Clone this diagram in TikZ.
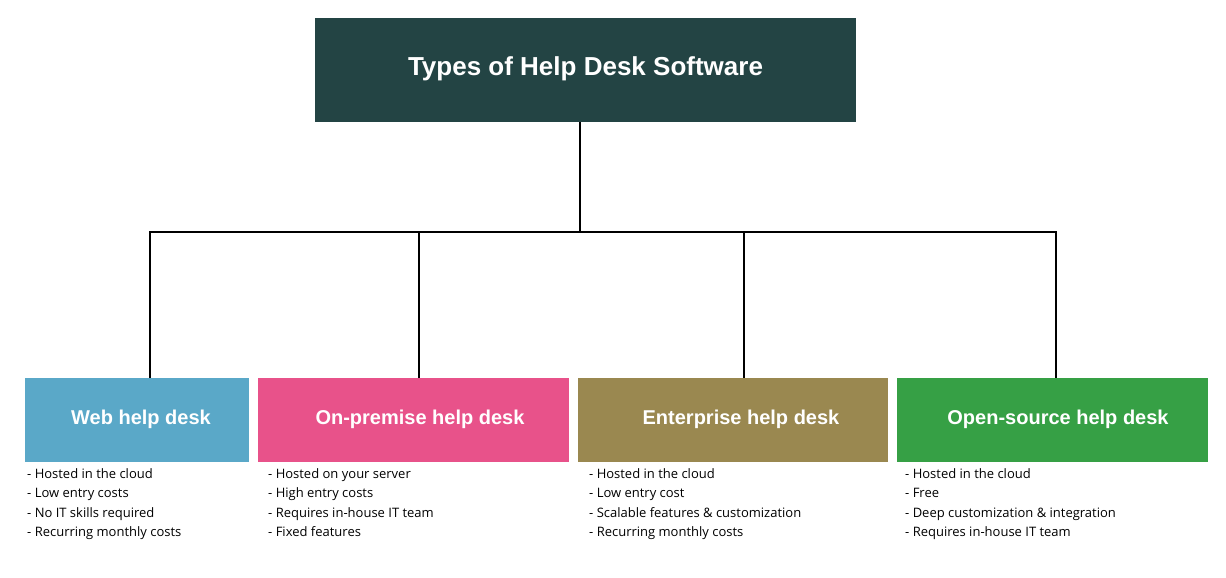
\documentclass[tikz,border=0pt]{standalone}
\usepackage{fontspec}
\setmainfont{Open Sans}
\newfontfamily\titlefont{Liberation Sans}
\definecolor{ttl}{HTML}{234444}
\definecolor{cweb}{HTML}{5AA8C8}
\definecolor{cprem}{HTML}{E8528A}
\definecolor{cent}{HTML}{9A8850}
\definecolor{copen}{HTML}{36A045}
\begin{document}
\begin{tikzpicture}[x=1pt,y=-1pt,
  cat/.style={font=\titlefont\bfseries\fontsize{20}{24}\selectfont, text=white, inner sep=0pt},
  lst/.style={anchor=north west, align=left, font=\fontsize{13}{19.5}\selectfont, inner sep=0pt},
  conn/.style={draw=black, line width=1.2pt}]
\useasboundingbox (0,0) rectangle (1226,578);
\fill[white] (0,0) rectangle (1226,578);
\fill[ttl] (315,18) rectangle (856,122);
\node[cat, font=\titlefont\bfseries\fontsize{26}{30}\selectfont] (title) at (585.5,69) {Types of Help Desk Software};
\fill[cweb] (25,378) rectangle (249,462);
\fill[cprem] (258,378) rectangle (569,462);
\fill[cent] (578,378) rectangle (888,462);
\fill[copen] (897,378) rectangle (1208,462);
\node[cat] (web) at (141,419) {Web help desk};
\node[cat] (prem) at (420,419) {On-premise help desk};
\node[cat] (ent) at (741,419) {Enterprise help desk};
\node[cat] (open) at (1058,419) {Open-source help desk};
\coordinate (t) at (580,122);
\coordinate (j) at (580,232);
\coordinate (a) at (150,232); \coordinate (a2) at (150,378);
\coordinate (b) at (419,232); \coordinate (b2) at (419,378);
\coordinate (c) at (744,232); \coordinate (c2) at (744,378);
\coordinate (d) at (1056,232); \coordinate (d2) at (1056,378);
\draw[conn] (t) -- (j);
\draw[conn] (a2) -- (a) -- (d) -- (d2);
\draw[conn] (b) -- (b2);
\draw[conn] (c) -- (c2);
\node[lst] (l1) at (27,468) {- Hosted in the cloud\\- Low entry costs\\- No IT skills required\\- Recurring monthly costs};
\node[lst] (l2) at (268,468) {- Hosted on your server\\- High entry costs\\- Requires in-house IT team\\- Fixed features};
\node[lst] (l3) at (589,468) {- Hosted in the cloud\\- Low entry cost\\- Scalable features \& customization\\- Recurring monthly costs};
\node[lst] (l4) at (905,468) {- Hosted in the cloud\\- Free\\- Deep customization \& integration\\- Requires in-house IT team};
\end{tikzpicture}
\end{document}
